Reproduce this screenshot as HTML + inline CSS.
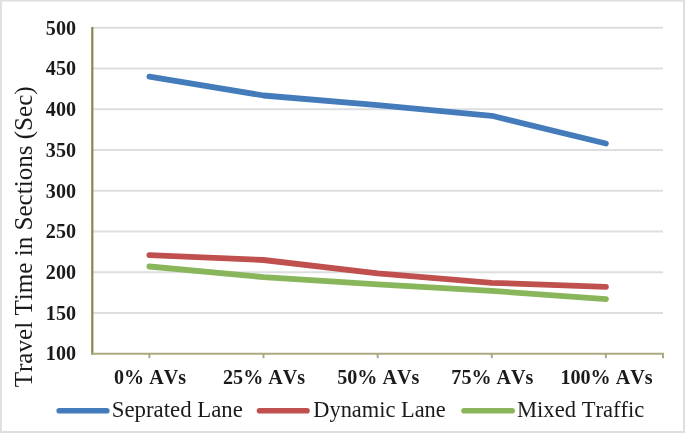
<!DOCTYPE html>
<html><head><meta charset="utf-8"><title>Travel Time in Sections</title>
<style>
html,body{margin:0;padding:0;background:#fff;}
body{width:685px;height:433px;overflow:hidden;}
svg{display:block;}
text{font-kerning:none;font-family:"Liberation Serif",serif;fill:#1a1a1a;}
.b{font-weight:bold;font-size:20.1px;}
.r{font-size:22.7px;}
.t{font-size:25.1px;}
.xb{font-weight:bold;font-size:20.1px;}
</style></head><body>
<svg width="685" height="433" viewBox="0 0 685 433" xmlns="http://www.w3.org/2000/svg">
<rect x="0" y="0" width="685" height="433" fill="#fff"/>
<rect x="0" y="0" width="685" height="1.6" fill="#dddfe1"/>
<rect x="0" y="0" width="1.85" height="433" fill="#dddfe1"/>
<rect x="683" y="0" width="2" height="433" fill="#dddfe1"/>
<rect x="0" y="431" width="685" height="2" fill="#dddfe1"/>

<line x1="92.3" x2="663.0" y1="27.85" y2="27.85" stroke="#dddee0" stroke-width="2"/>
<line x1="92.3" x2="663.0" y1="68.57" y2="68.57" stroke="#dddee0" stroke-width="2"/>
<line x1="92.3" x2="663.0" y1="109.30" y2="109.30" stroke="#dddee0" stroke-width="2"/>
<line x1="92.3" x2="663.0" y1="150.03" y2="150.03" stroke="#dddee0" stroke-width="2"/>
<line x1="92.3" x2="663.0" y1="190.75" y2="190.75" stroke="#dddee0" stroke-width="2"/>
<line x1="92.3" x2="663.0" y1="231.47" y2="231.47" stroke="#dddee0" stroke-width="2"/>
<line x1="92.3" x2="663.0" y1="272.20" y2="272.20" stroke="#dddee0" stroke-width="2"/>
<line x1="92.3" x2="663.0" y1="312.92" y2="312.92" stroke="#dddee0" stroke-width="2"/>
<line x1="92.3" x2="92.3" y1="27.05" y2="354.65" stroke="#8b8552" stroke-width="2.2"/>
<line x1="91.3" x2="664.0" y1="353.65" y2="353.65" stroke="#aca881" stroke-width="2"/>
<line x1="149.4" x2="149.4" y1="353.65" y2="358.15" stroke="#aca881" stroke-width="2"/>
<line x1="263.5" x2="263.5" y1="353.65" y2="358.15" stroke="#aca881" stroke-width="2"/>
<line x1="377.7" x2="377.7" y1="353.65" y2="358.15" stroke="#aca881" stroke-width="2"/>
<line x1="491.8" x2="491.8" y1="353.65" y2="358.15" stroke="#aca881" stroke-width="2"/>
<line x1="605.9" x2="605.9" y1="353.65" y2="358.15" stroke="#aca881" stroke-width="2"/>
<line x1="663.0" x2="663.0" y1="353.65" y2="358.15" stroke="#aca881" stroke-width="2"/>
<polyline points="149.4,76.7 263.5,95.5 377.7,105.2 491.8,115.8 605.9,143.5" fill="none" stroke="#437bbb" stroke-width="5.8" stroke-linecap="round" stroke-linejoin="round"/>
<polyline points="149.4,255.1 263.5,260.0 377.7,273.3 491.8,282.8 605.9,286.9" fill="none" stroke="#c0504d" stroke-width="5.8" stroke-linecap="round" stroke-linejoin="round"/>
<polyline points="149.4,266.5 263.5,277.1 377.7,284.4 491.8,290.9 605.9,299.1" fill="none" stroke="#89b65b" stroke-width="5.8" stroke-linecap="round" stroke-linejoin="round"/>
<text class="b" x="76" y="34.7" text-anchor="end">500</text>
<text class="b" x="76" y="75.4" text-anchor="end">450</text>
<text class="b" x="76" y="116.1" text-anchor="end">400</text>
<text class="b" x="76" y="156.8" text-anchor="end">350</text>
<text class="b" x="76" y="197.6" text-anchor="end">300</text>
<text class="b" x="76" y="238.3" text-anchor="end">250</text>
<text class="b" x="76" y="279.0" text-anchor="end">200</text>
<text class="b" x="76" y="319.7" text-anchor="end">150</text>
<text class="b" x="76" y="360.4" text-anchor="end">100</text>
<text class="xb" x="150.0" y="383.5" text-anchor="middle">0% AVs</text>
<text class="xb" x="264.1" y="383.5" text-anchor="middle">25% AVs</text>
<text class="xb" x="378.3" y="383.5" text-anchor="middle">50% AVs</text>
<text class="xb" x="492.4" y="383.5" text-anchor="middle">75% AVs</text>
<text class="xb" x="606.5" y="383.5" text-anchor="middle">100% AVs</text>
<text class="t" transform="translate(31.5,236.8) rotate(-90)" text-anchor="middle">Travel Time in Sections (Sec)</text>
<line x1="59.2" x2="106.8" y1="410.8" y2="410.8" stroke="#437bbb" stroke-width="5.6" stroke-linecap="round"/>
<text class="r" style="font-size:22.8px" x="111.8" y="417.3">Seprated Lane</text>
<line x1="259.5" x2="307.0" y1="410.8" y2="410.8" stroke="#c0504d" stroke-width="5.6" stroke-linecap="round"/>
<text class="r" style="font-size:22.4px" x="313.3" y="417.3">Dynamic Lane</text>
<line x1="464" x2="512.1" y1="410.8" y2="410.8" stroke="#89b65b" stroke-width="5.6" stroke-linecap="round"/>
<text class="r" style="font-size:22.6px" x="517.0" y="417.3">Mixed Traffic</text>
</svg></body></html>
